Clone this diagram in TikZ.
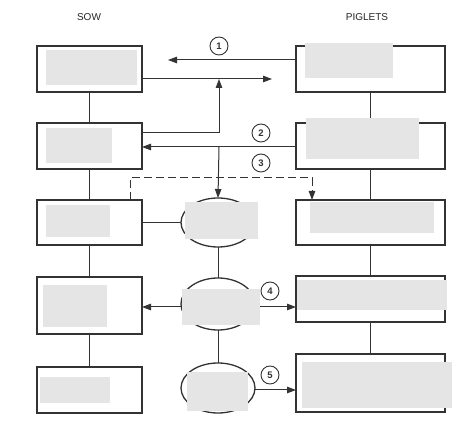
\documentclass[tikz,border=0pt]{standalone}
\usepackage{fontspec}
\setsansfont{Liberation Sans}
\usetikzlibrary{arrows.meta,shapes.geometric}
\begin{document}
\begin{tikzpicture}[x=1pt,y=-1pt,
  box/.style={draw=black!80,line width=1.3pt,inner sep=0pt,outer sep=0pt,minimum width=#1},
  lbox/.style={box=105pt},
  rbox/.style={box=149pt},
  oval/.style={ellipse,draw=black!80,line width=1.3pt,inner sep=0pt,outer sep=0pt,minimum width=74pt},
  conn/.style={draw=black!80,line width=1pt},
  arr/.style={conn,-{Triangle[length=9pt,width=6.5pt]}},
  num/.style={circle,draw=black!80,line width=0.9pt,minimum size=18pt,inner sep=0pt,font=\sffamily\bfseries\fontsize{9.5}{10}\selectfont,text=black!80},
  title/.style={font=\sffamily\fontsize{10}{10}\selectfont,text=black!85},
  patch/.style={fill=black!10}
]
\useasboundingbox[fill=white] (0,0) rectangle (474,427);

\node[title] (tsow) at (89,17) {SOW};
\node[title] (tpig) at (367,17) {PIGLETS};

% left boxes
\node[lbox,minimum height=46pt] (L1) at (89.5,69) {};
\node[lbox,minimum height=46pt] (L2) at (89.5,146) {};
\node[lbox,minimum height=45pt] (L3) at (89.5,222.5) {};
\node[lbox,minimum height=57pt] (L4) at (89.5,305.5) {};
\node[lbox,minimum height=46pt] (L5) at (89.5,390) {};
% right boxes
\node[rbox,minimum height=46pt] (R1) at (370.5,69) {};
\node[rbox,minimum height=46pt] (R2) at (370.5,146) {};
\node[rbox,minimum height=45pt] (R3) at (370.5,222.5) {};
\node[rbox,minimum height=46pt] (R4) at (370.5,299) {};
\node[rbox,minimum height=58pt] (R5) at (370.5,383) {};
% ovals
\node[oval,minimum height=49pt] (E1) at (218,222.5) {};
\node[oval,minimum height=52pt] (E2) at (218,304) {};
\node[oval,minimum height=50pt] (E3) at (218,388) {};

% vertical links
\draw[conn] (L1.south) -- (L2.north);
\draw[conn] (L2.south) -- (L3.north);
\draw[conn] (L3.south) -- (L4.north);
\draw[conn] (L4.south) -- (L5.north);
\draw[conn] (R1.south) -- (R2.north);
\draw[conn] (R2.south) -- (R3.north);
\draw[conn] (R3.south) -- (R4.north);
\draw[conn] (R4.south) -- (R5.north);
\draw[conn] (E1.south) -- (E2.north);
\draw[conn] (E2.south) -- (E3.north);
\draw[conn] (L3.east) -- (E1.west);

% arrows group 1
\coordinate (a1l) at (168,60);
\coordinate (a1r) at (272,79);
\coordinate (j1) at (219,79);
\coordinate (j2) at (219,133);
\coordinate (j3) at (219,147);
\draw[arr] (R1.west |- a1l) -- (a1l);
\draw[arr] (L1.east |- a1r) -- (a1r);
\draw[arr] (L2.east |- j2) -- (j2) -- (j1);
% arrows group 2
\draw[arr] (R2.west |- j3) -- (L2.east |- j3);
\draw[arr] (j3) -- (E1.north);
% dashed 3
\coordinate (d1) at (130,178);
\coordinate (d2) at (312,178);
\draw[arr,dash pattern=on 8pt off 4pt] (L3.north -| d1) -- (d1) -- (d2) -- (R3.north -| d2);
% 4 and 5
\coordinate (a4) at (218,307);
\coordinate (a5) at (218,390);
\draw[arr] (E2.west |- a4) -- (L4.east |- a4);
\draw[arr] (E2.east |- a4) -- (R4.west |- a4);
\draw[arr] (E3.east |- a5) -- (R5.west |- a5);

% numbers
\node[num,fill=white] (n1) at (219,46) {1};
\node[num,fill=white] (n2) at (261,133) {2};
\node[num,fill=white] (n3) at (261,163) {3};
\node[num,fill=white] (n4) at (270,291) {4};
\node[num,fill=white] (n5) at (270,375) {5};

% label patches (blurred-out texts)
\fill[patch] (46,50) rectangle (137,85);
\fill[patch] (305,43) rectangle (393,78);
\fill[patch] (46,128) rectangle (112,163);
\fill[patch] (306,118) rectangle (419,159);
\fill[patch] (46,205) rectangle (110,237);
\fill[patch] (185,202) rectangle (258,239);
\fill[patch] (310,202) rectangle (434,233);
\fill[patch] (43,285) rectangle (107,327);
\fill[patch] (182,289) rectangle (260,325);
\fill[patch] (297,280) rectangle (447,310);
\fill[patch] (40,377) rectangle (110,403);
\fill[patch] (187,372) rectangle (248,411);
\fill[patch] (302,362) rectangle (452,408);
\end{tikzpicture}
\end{document}
